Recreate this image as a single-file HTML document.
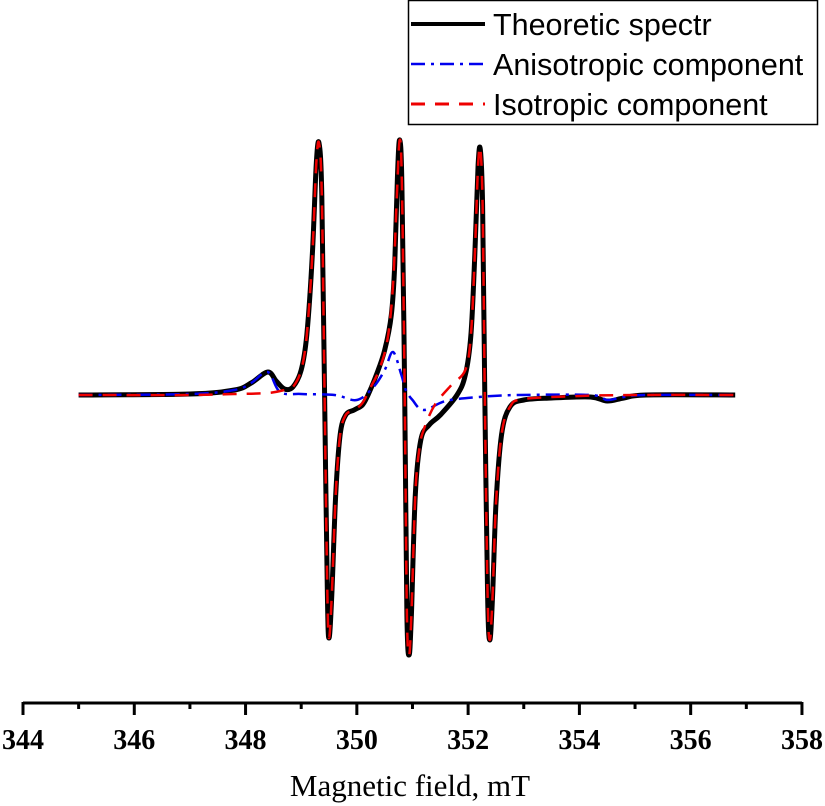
<!DOCTYPE html>
<html><head><meta charset="utf-8"><style>
body{margin:0;background:#fff}
svg{display:block}
</style></head><body>
<svg width="825" height="806" viewBox="0 0 825 806" xmlns="http://www.w3.org/2000/svg">
<g id="axis"></g>
<g id="series"></g>
<text x="410" y="796" text-anchor="middle" font-family="Liberation Serif, serif" font-size="31">Magnetic field, mT</text>
<g>
<rect x="408.5" y="0.5" width="409" height="124" fill="#fff" stroke="#000" stroke-width="1.5"/>
<line x1="411" y1="24" x2="485" y2="24" stroke="#000" stroke-width="4"/>
<text x="493" y="35" font-family="Liberation Sans, sans-serif" font-size="30.5">Theoretic spectr</text>
<line x1="411" y1="64" x2="485" y2="64" stroke="#0000ee" stroke-width="2.5" stroke-dasharray="14,6,3,6"/>
<text x="493" y="75" font-family="Liberation Sans, sans-serif" font-size="30.5">Anisotropic component</text>
<line x1="411" y1="104" x2="485" y2="104" stroke="#ee0000" stroke-width="3" stroke-dasharray="14,10"/>
<text x="493" y="115" font-family="Liberation Sans, sans-serif" font-size="30.5">Isotropic component</text>
</g>
</svg>
<script>
const xTicks=[344,346,348,350,352,354,356,358];
const theoField=[345,347,347.8,348.1,348.4,348.55,348.7,348.85,349.0,349.1,349.2,349.27,349.32,349.37,349.42,349.47,349.5,349.55,349.62,349.7,349.8,349.95,350.1,350.2,350.35,350.5,350.62,350.68,350.73,350.77,350.81,350.86,350.9,350.94,350.98,351.05,351.15,351.3,351.5,351.8,351.95,352.05,352.12,352.18,352.22,352.26,352.3,352.35,352.39,352.44,352.5,352.6,352.75,353,353.5,354.2,354.5,354.8,355.2,356.8];
const theoAmp=[0,1,5,12,23,14,6,8,25,60,140,230,252,200,0,-200,-243,-200,-100,-40,-20,-15,-10,0,20,45,80,130,220,255,210,0,-220,-260,-220,-100,-45,-30,-20,0,20,60,140,230,245,190,0,-200,-245,-200,-110,-40,-12,-5,-3,-2,-6,-3,0,0];
const isoField=[345,347,347.8,348.4,348.7,348.85,349.0,349.1,349.2,349.27,349.32,349.37,349.42,349.47,349.5,349.55,349.62,349.7,349.8,349.95,350.1,350.25,350.4,350.55,350.65,350.72,350.77,350.81,350.86,350.9,350.94,350.98,351.05,351.12,351.2,351.4,351.7,351.95,352.05,352.12,352.18,352.22,352.26,352.3,352.35,352.39,352.44,352.5,352.6,352.75,353,354,355,356.8];
const isoAmp=[0,0,1,2,5,8,25,60,140,230,252,200,0,-200,-243,-200,-100,-40,-20,-15,-8,8,25,55,110,200,255,210,0,-220,-260,-220,-100,-55,-35,-10,10,25,60,140,230,245,190,0,-200,-245,-200,-110,-40,-12,-4,-1,0,0];
const anisoField=[345,347,347.8,348.1,348.4,348.62,349.0,349.6,350.0,350.3,350.5,350.65,350.8,350.88,351.0,351.2,351.6,352.2,352.9,354.2,354.5,354.8,355.2,356.8];
const anisoAmp=[0,1,5,12,23,3,1,0,-5,8,25,43,20,5,-5,-15,-6,-2,0,0,-5,-2,0,0];
const NS='http://www.w3.org/2000/svg';
const xs=f=>23+(f-344)*55.64;
const ys=v=>395-v;
const axis=document.getElementById('axis');
const ax=document.createElementNS(NS,'line');


ax.setAttribute('x1',xs(344));ax.setAttribute('x2',xs(358));ax.setAttribute('y1',703);ax.setAttribute('y2',703);
ax.setAttribute('stroke','#000');ax.setAttribute('stroke-width','3');
axis.appendChild(ax);
for(let t=344;t<=358;t++){
  const tk=document.createElementNS(NS,'line');
  
  
  tk.setAttribute('x1',xs(t));tk.setAttribute('x2',xs(t));tk.setAttribute('y1',702);tk.setAttribute('y2',(t%2==0)?715:709);
  tk.setAttribute('stroke','#000');tk.setAttribute('stroke-width','3');
  axis.appendChild(tk);
}
xTicks.forEach(t=>{
  const tx=document.createElementNS(NS,'text');
  
  
  tx.setAttribute('x',xs(t));tx.setAttribute('y',749);tx.setAttribute('text-anchor','middle');
  tx.setAttribute('font-family','Liberation Serif, serif');tx.setAttribute('font-size','28');tx.setAttribute('font-weight','bold');
  tx.textContent=t;axis.appendChild(tx);
});
const ser=document.getElementById('series');
function smoothPath(pts){
  let d='M'+pts[0][0].toFixed(1)+','+pts[0][1].toFixed(1);
  for(let i=0;i<pts.length-1;i++){
    const p0=pts[Math.max(0,i-1)],p1=pts[i],p2=pts[i+1],p3=pts[Math.min(pts.length-1,i+2)];
    const c1x=p1[0]+(p2[0]-p0[0])/6,c1y=p1[1]+(p2[1]-p0[1])/6;
    const c2x=p2[0]-(p3[0]-p1[0])/6,c2y=p2[1]-(p3[1]-p1[1])/6;
    d+='C'+c1x.toFixed(1)+','+c1y.toFixed(1)+' '+c2x.toFixed(1)+','+c2y.toFixed(1)+' '+p2[0].toFixed(1)+','+p2[1].toFixed(1);
  }
  return d;
}
function draw(fs,as,name,color,w,dash){
  const p=document.createElementNS(NS,'path');
  
  
  p.setAttribute('d',smoothPath(fs.map((f,i)=>[xs(f),ys(as[i])])));
  p.setAttribute('fill','none');p.setAttribute('stroke',color);p.setAttribute('stroke-width',w);
  p.setAttribute('stroke-linejoin','round');
  if(dash)p.setAttribute('stroke-dasharray',dash);
  ser.appendChild(p);
}
draw(theoField,theoAmp,'theoretic-spectrum-line','#000',5,null);
draw(anisoField,anisoAmp,'anisotropic-component-line','#0000ee',2.5,'14,6,3,6');
draw(isoField,isoAmp,'isotropic-component-line','#ee0000',2.5,'14,10');
</script>
</body></html>
